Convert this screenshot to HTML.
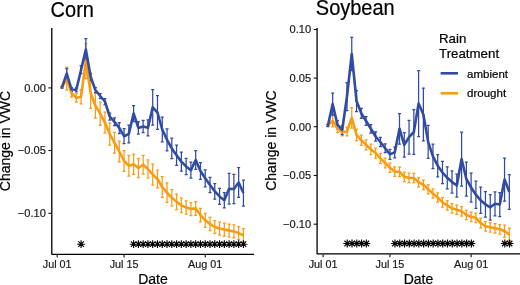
<!DOCTYPE html>
<html><head><meta charset="utf-8"><title>Change in VWC</title>
<style>
html,body{margin:0;padding:0;background:#fff;}
svg{display:block;}
text{font-family:"Liberation Sans",sans-serif;fill:#000;stroke:#000;stroke-width:0.2px;}
.ti{font-size:20px;}
.at{font-size:14px;}
.lt{font-size:13.3px;}
.tk{font-size:10.8px;fill:#1a1a1a;stroke:#1a1a1a;stroke-width:0.2px;}
.ty{font-size:11.1px;}
.lg{font-size:11.5px;}
.st{font-size:13px;}
</style></head><body>
<svg width="520" height="285" viewBox="0 0 520 285">
<rect width="520" height="285" fill="#fff"/>
<path d="M51.8,28V254.3H254" stroke="#000" stroke-width="1.3" fill="none" stroke-linejoin="round"/><path d="M57.20,254.70000000000002V257.60" stroke="#111" stroke-width="1.1"/><path d="M124.05,254.70000000000002V257.60" stroke="#111" stroke-width="1.1"/><path d="M205.23,254.70000000000002V257.60" stroke="#111" stroke-width="1.1"/><path d="M48.4,87.9H51.8" stroke="#111" stroke-width="1.1"/><path d="M48.4,150.5H51.8" stroke="#111" stroke-width="1.1"/><path d="M48.4,213.3H51.8" stroke="#111" stroke-width="1.1"/><text x="57.20" y="268.3" text-anchor="middle" class="tk">Jul 01</text><text x="124.05" y="268.3" text-anchor="middle" class="tk">Jul 15</text><text x="205.23" y="268.3" text-anchor="middle" class="tk">Aug 01</text><text x="45.9" y="91.80000000000001" text-anchor="end" class="tk ty">0.00</text><text x="45.9" y="154.4" text-anchor="end" class="tk ty">−0.05</text><text x="45.9" y="217.20000000000002" text-anchor="end" class="tk ty">−0.10</text>
<path d="M317.1,28V253.9H520" stroke="#000" stroke-width="1.3" fill="none" stroke-linejoin="round"/><path d="M323.10,254.3V257.20" stroke="#111" stroke-width="1.1"/><path d="M389.95,254.3V257.20" stroke="#111" stroke-width="1.1"/><path d="M471.12,254.3V257.20" stroke="#111" stroke-width="1.1"/><path d="M313.70000000000005,29.5H317.1" stroke="#111" stroke-width="1.1"/><path d="M313.70000000000005,78.1H317.1" stroke="#111" stroke-width="1.1"/><path d="M313.70000000000005,126.7H317.1" stroke="#111" stroke-width="1.1"/><path d="M313.70000000000005,175.5H317.1" stroke="#111" stroke-width="1.1"/><path d="M313.70000000000005,224.2H317.1" stroke="#111" stroke-width="1.1"/><text x="323.10" y="268.3" text-anchor="middle" class="tk">Jul 01</text><text x="389.95" y="268.3" text-anchor="middle" class="tk">Jul 15</text><text x="471.12" y="268.3" text-anchor="middle" class="tk">Aug 01</text><text x="311.20000000000005" y="33.4" text-anchor="end" class="tk ty">0.10</text><text x="311.20000000000005" y="82.0" text-anchor="end" class="tk ty">0.05</text><text x="311.20000000000005" y="130.6" text-anchor="end" class="tk ty">0.00</text><text x="311.20000000000005" y="179.4" text-anchor="end" class="tk ty">−0.05</text><text x="311.20000000000005" y="228.1" text-anchor="end" class="tk ty">−0.10</text>
<path d="M61.98,86.50V88.10M60.48,86.50h3.0M60.48,88.10h3.0M66.75,67.00V90.20M65.25,67.00h3.0M65.25,90.20h3.0M71.53,89.60V97.00M70.03,89.60h3.0M70.03,97.00h3.0M76.30,93.60V102.20M74.80,93.60h3.0M74.80,102.20h3.0M81.08,89.50V103.90M79.58,89.50h3.0M79.58,103.90h3.0M85.85,43.50V78.50M84.35,43.50h3.0M84.35,78.50h3.0M90.62,77.70V108.30M89.12,77.70h3.0M89.12,108.30h3.0M95.40,93.40V118.00M93.90,93.40h3.0M93.90,118.00h3.0M100.18,102.00V125.40M98.68,102.00h3.0M98.68,125.40h3.0M104.95,112.00V133.20M103.45,112.00h3.0M103.45,133.20h3.0M109.73,122.80V145.20M108.23,122.80h3.0M108.23,145.20h3.0M114.50,132.40V153.00M113.00,132.40h3.0M113.00,153.00h3.0M119.28,141.10V161.90M117.78,141.10h3.0M117.78,161.90h3.0M124.05,150.60V171.40M122.55,150.60h3.0M122.55,171.40h3.0M128.82,155.30V176.10M127.32,155.30h3.0M127.32,176.10h3.0M133.60,154.00V174.40M132.10,154.00h3.0M132.10,174.40h3.0M138.38,158.40V177.60M136.88,158.40h3.0M136.88,177.60h3.0M143.15,155.40V174.00M141.65,155.40h3.0M141.65,174.00h3.0M147.93,159.80V178.20M146.43,159.80h3.0M146.43,178.20h3.0M152.70,164.00V185.00M151.20,164.00h3.0M151.20,185.00h3.0M157.48,170.10V187.90M155.98,170.10h3.0M155.98,187.90h3.0M162.25,176.70V197.30M160.75,176.70h3.0M160.75,197.30h3.0M167.03,182.90V202.30M165.53,182.90h3.0M165.53,202.30h3.0M171.80,189.70V205.90M170.30,189.70h3.0M170.30,205.90h3.0M176.58,194.10V209.50M175.08,194.10h3.0M175.08,209.50h3.0M181.35,198.20V212.60M179.85,198.20h3.0M179.85,212.60h3.0M186.12,200.80V214.20M184.62,200.80h3.0M184.62,214.20h3.0M190.90,202.50V215.50M189.40,202.50h3.0M189.40,215.50h3.0M195.68,201.50V215.30M194.18,201.50h3.0M194.18,215.30h3.0M200.45,208.30V221.90M198.95,208.30h3.0M198.95,221.90h3.0M205.23,213.30V227.30M203.73,213.30h3.0M203.73,227.30h3.0M210.00,217.30V230.70M208.50,217.30h3.0M208.50,230.70h3.0M214.78,220.60V233.40M213.28,220.60h3.0M213.28,233.40h3.0M219.55,222.00V235.20M218.05,222.00h3.0M218.05,235.20h3.0M224.32,223.10V236.10M222.82,223.10h3.0M222.82,236.10h3.0M229.10,224.00V236.80M227.60,224.00h3.0M227.60,236.80h3.0M233.88,224.90V237.90M232.38,224.90h3.0M232.38,237.90h3.0M238.65,226.60V239.60M237.15,226.60h3.0M237.15,239.60h3.0M243.43,228.70V241.70M241.93,228.70h3.0M241.93,241.70h3.0" stroke="#F89C14" stroke-width="1.25" fill="none"/>
<path d="M61.98,86.50V88.10M60.48,86.50h3.0M60.48,88.10h3.0M66.75,68.50V78.50M65.25,68.50h3.0M65.25,78.50h3.0M71.53,87.50V91.50M70.03,87.50h3.0M70.03,91.50h3.0M76.30,87.80V91.80M74.80,87.80h3.0M74.80,91.80h3.0M81.08,65.70V73.70M79.58,65.70h3.0M79.58,73.70h3.0M85.85,38.50V60.50M84.35,38.50h3.0M84.35,60.50h3.0M90.62,73.30V80.30M89.12,73.30h3.0M89.12,80.30h3.0M95.40,87.50V92.50M93.90,87.50h3.0M93.90,92.50h3.0M100.18,93.50V98.50M98.68,93.50h3.0M98.68,98.50h3.0M104.95,98.50V104.50M103.45,98.50h3.0M103.45,104.50h3.0M109.73,113.00V120.00M108.23,113.00h3.0M108.23,120.00h3.0M114.50,117.90V125.70M113.00,117.90h3.0M113.00,125.70h3.0M119.28,122.50V133.50M117.78,122.50h3.0M117.78,133.50h3.0M124.05,128.70V143.70M122.55,128.70h3.0M122.55,143.70h3.0M128.82,125.20V142.80M127.32,125.20h3.0M127.32,142.80h3.0M133.60,105.50V121.50M132.10,105.50h3.0M132.10,121.50h3.0M138.38,121.70V134.10M136.88,121.70h3.0M136.88,134.10h3.0M143.15,120.30V132.70M141.65,120.30h3.0M141.65,132.70h3.0M147.93,119.80V135.80M146.43,119.80h3.0M146.43,135.80h3.0M152.70,89.60V125.00M151.20,89.60h3.0M151.20,125.00h3.0M157.48,95.70V129.30M155.98,95.70h3.0M155.98,129.30h3.0M162.25,117.20V141.80M160.75,117.20h3.0M160.75,141.80h3.0M167.03,128.80V150.80M165.53,128.80h3.0M165.53,150.80h3.0M171.80,138.20V158.60M170.30,138.20h3.0M170.30,158.60h3.0M176.58,145.10V165.30M175.08,145.10h3.0M175.08,165.30h3.0M181.35,152.00V171.20M179.85,152.00h3.0M179.85,171.20h3.0M186.12,158.30V174.50M184.62,158.30h3.0M184.62,174.50h3.0M190.90,162.20V178.20M189.40,162.20h3.0M189.40,178.20h3.0M195.68,150.70V169.30M194.18,150.70h3.0M194.18,169.30h3.0M200.45,162.70V179.30M198.95,162.70h3.0M198.95,179.30h3.0M205.23,169.80V186.80M203.73,169.80h3.0M203.73,186.80h3.0M210.00,177.30V192.70M208.50,177.30h3.0M208.50,192.70h3.0M214.78,183.60V199.00M213.28,183.60h3.0M213.28,199.00h3.0M219.55,188.40V204.40M218.05,188.40h3.0M218.05,204.40h3.0M224.32,192.50V207.90M222.82,192.50h3.0M222.82,207.90h3.0M229.10,173.30V204.10M227.60,173.30h3.0M227.60,204.10h3.0M233.88,174.40V203.60M232.38,174.40h3.0M232.38,203.60h3.0M238.65,167.70V197.30M237.15,167.70h3.0M237.15,197.30h3.0M243.43,180.00V206.00M241.93,180.00h3.0M241.93,206.00h3.0" stroke="#314BA2" stroke-width="1.25" fill="none"/>
<polyline points="61.98,87.30 66.75,78.60 71.53,93.30 76.30,97.90 81.08,96.70 85.85,61.00 90.62,93.00 95.40,105.70 100.18,113.70 104.95,122.60 109.73,134.00 114.50,142.70 119.28,151.50 124.05,161.00 128.82,165.70 133.60,164.20 138.38,168.00 143.15,164.70 147.93,169.00 152.70,174.50 157.48,179.00 162.25,187.00 167.03,192.60 171.80,197.80 176.58,201.80 181.35,205.40 186.12,207.50 190.90,209.00 195.68,208.40 200.45,215.10 205.23,220.30 210.00,224.00 214.78,227.00 219.55,228.60 224.32,229.60 229.10,230.40 233.88,231.40 238.65,233.10 243.43,235.20" stroke="#F89C14" stroke-width="2.6" fill="none" stroke-linejoin="round" stroke-linecap="butt"/>
<polyline points="61.98,87.30 66.75,73.50 71.53,89.50 76.30,89.80 81.08,69.70 85.85,49.50 90.62,76.80 95.40,90.00 100.18,96.00 104.95,101.50 109.73,116.50 114.50,121.80 119.28,128.00 124.05,136.20 128.82,134.00 133.60,113.50 138.38,127.90 143.15,126.50 147.93,127.80 152.70,107.30 157.48,112.50 162.25,129.50 167.03,139.80 171.80,148.40 176.58,155.20 181.35,161.60 186.12,166.40 190.90,170.20 195.68,160.00 200.45,171.00 205.23,178.30 210.00,185.00 214.78,191.30 219.55,196.40 224.32,200.20 229.10,188.70 233.88,189.00 238.65,182.50 243.43,193.00" stroke="#314BA2" stroke-width="2.6" fill="none" stroke-linejoin="round" stroke-linecap="butt"/>
<path d="M327.88,124.40V126.40M326.38,124.40h3.0M326.38,126.40h3.0M332.65,114.80V126.80M331.15,114.80h3.0M331.15,126.80h3.0M337.43,124.60V132.60M335.93,124.60h3.0M335.93,132.60h3.0M342.20,128.60V135.80M340.70,128.60h3.0M340.70,135.80h3.0M346.98,127.20V135.80M345.48,127.20h3.0M345.48,135.80h3.0M351.75,107.60V128.00M350.25,107.60h3.0M350.25,128.00h3.0M356.53,129.30V140.70M355.03,129.30h3.0M355.03,140.70h3.0M361.30,135.00V145.40M359.80,135.00h3.0M359.80,145.40h3.0M366.08,139.80V149.80M364.58,139.80h3.0M364.58,149.80h3.0M370.85,144.20V154.60M369.35,144.20h3.0M369.35,154.60h3.0M375.62,148.00V158.00M374.12,148.00h3.0M374.12,158.00h3.0M380.40,153.40V163.40M378.90,153.40h3.0M378.90,163.40h3.0M385.18,158.20V167.80M383.68,158.20h3.0M383.68,167.80h3.0M389.95,163.00V172.40M388.45,163.00h3.0M388.45,172.40h3.0M394.73,166.90V176.30M393.23,166.90h3.0M393.23,176.30h3.0M399.50,167.10V176.50M398.00,167.10h3.0M398.00,176.50h3.0M404.28,172.10V181.50M402.78,172.10h3.0M402.78,181.50h3.0M409.05,173.10V182.50M407.55,173.10h3.0M407.55,182.50h3.0M413.83,173.30V182.70M412.33,173.30h3.0M412.33,182.70h3.0M418.60,177.50V186.90M417.10,177.50h3.0M417.10,186.90h3.0M423.38,180.10V189.50M421.88,180.10h3.0M421.88,189.50h3.0M428.15,184.50V193.90M426.65,184.50h3.0M426.65,193.90h3.0M432.93,188.80V198.20M431.43,188.80h3.0M431.43,198.20h3.0M437.70,192.80V202.20M436.20,192.80h3.0M436.20,202.20h3.0M442.48,197.60V207.00M440.98,197.60h3.0M440.98,207.00h3.0M447.25,200.60V210.00M445.75,200.60h3.0M445.75,210.00h3.0M452.03,203.60V213.00M450.53,203.60h3.0M450.53,213.00h3.0M456.80,205.00V214.40M455.30,205.00h3.0M455.30,214.40h3.0M461.58,206.60V216.00M460.08,206.60h3.0M460.08,216.00h3.0M466.35,210.30V219.70M464.85,210.30h3.0M464.85,219.70h3.0M471.12,212.10V221.50M469.62,212.10h3.0M469.62,221.50h3.0M475.90,213.10V222.50M474.40,213.10h3.0M474.40,222.50h3.0M480.68,218.20V227.80M479.18,218.20h3.0M479.18,227.80h3.0M485.45,221.50V231.10M483.95,221.50h3.0M483.95,231.10h3.0M490.23,222.50V232.10M488.73,222.50h3.0M488.73,232.10h3.0M495.00,223.50V233.10M493.50,223.50h3.0M493.50,233.10h3.0M499.78,224.50V234.10M498.28,224.50h3.0M498.28,234.10h3.0M504.55,225.00V237.40M503.05,225.00h3.0M503.05,237.40h3.0M509.33,228.10V240.70M507.83,228.10h3.0M507.83,240.70h3.0" stroke="#F89C14" stroke-width="1.25" fill="none"/>
<path d="M327.88,124.70V126.70M326.38,124.70h3.0M326.38,126.70h3.0M332.65,93.00V115.00M331.15,93.00h3.0M331.15,115.00h3.0M337.43,120.60V128.60M335.93,120.60h3.0M335.93,128.60h3.0M342.20,125.50V134.50M340.70,125.50h3.0M340.70,134.50h3.0M346.98,82.50V110.50M345.48,82.50h3.0M345.48,110.50h3.0M351.75,37.40V70.60M350.25,37.40h3.0M350.25,70.60h3.0M356.53,90.50V111.50M355.03,90.50h3.0M355.03,111.50h3.0M361.30,108.30V118.30M359.80,108.30h3.0M359.80,118.30h3.0M366.08,116.60V125.40M364.58,116.60h3.0M364.58,125.40h3.0M370.85,124.60V133.00M369.35,124.60h3.0M369.35,133.00h3.0M375.62,131.90V141.10M374.12,131.90h3.0M374.12,141.10h3.0M380.40,137.30V146.70M378.90,137.30h3.0M378.90,146.70h3.0M385.18,143.90V152.50M383.68,143.90h3.0M383.68,152.50h3.0M389.95,149.30V159.30M388.45,149.30h3.0M388.45,159.30h3.0M394.73,147.00V157.80M393.23,147.00h3.0M393.23,157.80h3.0M399.50,113.50V144.10M398.00,113.50h3.0M398.00,144.10h3.0M404.28,132.60V157.00M402.78,132.60h3.0M402.78,157.00h3.0M409.05,120.40V154.00M407.55,120.40h3.0M407.55,154.00h3.0M413.83,109.60V154.40M412.33,109.60h3.0M412.33,154.40h3.0M418.60,70.50V136.50M417.10,70.50h3.0M417.10,136.50h3.0M423.38,88.20V140.80M421.88,88.20h3.0M421.88,140.80h3.0M428.15,125.30V158.30M426.65,125.30h3.0M426.65,158.30h3.0M432.93,144.00V168.60M431.43,144.00h3.0M431.43,168.60h3.0M437.70,154.60V176.80M436.20,154.60h3.0M436.20,176.80h3.0M442.48,161.40V183.60M440.98,161.40h3.0M440.98,183.60h3.0M447.25,166.80V188.80M445.75,166.80h3.0M445.75,188.80h3.0M452.03,170.80V193.20M450.53,170.80h3.0M450.53,193.20h3.0M456.80,174.00V197.00M455.30,174.00h3.0M455.30,197.00h3.0M461.58,132.00V186.00M460.08,132.00h3.0M460.08,186.00h3.0M466.35,162.00V196.00M464.85,162.00h3.0M464.85,196.00h3.0M471.12,173.00V202.00M469.62,173.00h3.0M469.62,202.00h3.0M475.90,181.10V208.30M474.40,181.10h3.0M474.40,208.30h3.0M480.68,187.20V213.40M479.18,187.20h3.0M479.18,213.40h3.0M485.45,191.70V217.10M483.95,191.70h3.0M483.95,217.10h3.0M490.23,194.60V220.00M488.73,194.60h3.0M488.73,220.00h3.0M495.00,191.80V215.80M493.50,191.80h3.0M493.50,215.80h3.0M499.78,192.50V216.50M498.28,192.50h3.0M498.28,216.50h3.0M504.55,158.00V201.00M503.05,158.00h3.0M503.05,201.00h3.0M509.33,174.70V209.30M507.83,174.70h3.0M507.83,209.30h3.0" stroke="#314BA2" stroke-width="1.25" fill="none"/>
<polyline points="327.88,125.40 332.65,120.80 337.43,128.60 342.20,132.20 346.98,131.50 351.75,117.80 356.53,135.00 361.30,140.20 366.08,144.80 370.85,149.40 375.62,153.00 380.40,158.40 385.18,163.00 389.95,167.70 394.73,171.60 399.50,171.80 404.28,176.80 409.05,177.80 413.83,178.00 418.60,182.20 423.38,184.80 428.15,189.20 432.93,193.50 437.70,197.50 442.48,202.30 447.25,205.30 452.03,208.30 456.80,209.70 461.58,211.30 466.35,215.00 471.12,216.80 475.90,217.80 480.68,223.00 485.45,226.30 490.23,227.30 495.00,228.30 499.78,229.30 504.55,231.20 509.33,234.40" stroke="#F89C14" stroke-width="2.6" fill="none" stroke-linejoin="round" stroke-linecap="butt"/>
<polyline points="327.88,125.70 332.65,104.00 337.43,124.60 342.20,130.00 346.98,96.50 351.75,54.00 356.53,101.00 361.30,113.30 366.08,121.00 370.85,128.80 375.62,136.50 380.40,142.00 385.18,148.20 389.95,154.30 394.73,152.40 399.50,128.80 404.28,144.80 409.05,137.20 413.83,132.00 418.60,103.50 423.38,114.50 428.15,141.80 432.93,156.30 437.70,165.70 442.48,172.50 447.25,177.80 452.03,182.00 456.80,185.50 461.58,159.00 466.35,179.00 471.12,187.50 475.90,194.70 480.68,200.30 485.45,204.40 490.23,207.30 495.00,203.80 499.78,204.50 504.55,179.50 509.33,192.00" stroke="#314BA2" stroke-width="2.6" fill="none" stroke-linejoin="round" stroke-linecap="butt"/>
<path d="M77.17,244.2h7.8M81.08,240.29999999999998v7.8M78.32,241.44l5.52,5.52M78.32,246.96l5.52,-5.52M129.70,244.2h7.8M133.60,240.29999999999998v7.8M130.84,241.44l5.52,5.52M130.84,246.96l5.52,-5.52M134.47,244.2h7.8M138.38,240.29999999999998v7.8M135.62,241.44l5.52,5.52M135.62,246.96l5.52,-5.52M139.25,244.2h7.8M143.15,240.29999999999998v7.8M140.39,241.44l5.52,5.52M140.39,246.96l5.52,-5.52M144.03,244.2h7.8M147.93,240.29999999999998v7.8M145.17,241.44l5.52,5.52M145.17,246.96l5.52,-5.52M148.80,244.2h7.8M152.70,240.29999999999998v7.8M149.94,241.44l5.52,5.52M149.94,246.96l5.52,-5.52M153.58,244.2h7.8M157.48,240.29999999999998v7.8M154.72,241.44l5.52,5.52M154.72,246.96l5.52,-5.52M158.35,244.2h7.8M162.25,240.29999999999998v7.8M159.49,241.44l5.52,5.52M159.49,246.96l5.52,-5.52M163.12,244.2h7.8M167.03,240.29999999999998v7.8M164.27,241.44l5.52,5.52M164.27,246.96l5.52,-5.52M167.90,244.2h7.8M171.80,240.29999999999998v7.8M169.04,241.44l5.52,5.52M169.04,246.96l5.52,-5.52M172.68,244.2h7.8M176.58,240.29999999999998v7.8M173.82,241.44l5.52,5.52M173.82,246.96l5.52,-5.52M177.45,244.2h7.8M181.35,240.29999999999998v7.8M178.59,241.44l5.52,5.52M178.59,246.96l5.52,-5.52M182.22,244.2h7.8M186.12,240.29999999999998v7.8M183.37,241.44l5.52,5.52M183.37,246.96l5.52,-5.52M187.00,244.2h7.8M190.90,240.29999999999998v7.8M188.14,241.44l5.52,5.52M188.14,246.96l5.52,-5.52M191.78,244.2h7.8M195.68,240.29999999999998v7.8M192.92,241.44l5.52,5.52M192.92,246.96l5.52,-5.52M196.55,244.2h7.8M200.45,240.29999999999998v7.8M197.69,241.44l5.52,5.52M197.69,246.96l5.52,-5.52M201.33,244.2h7.8M205.23,240.29999999999998v7.8M202.47,241.44l5.52,5.52M202.47,246.96l5.52,-5.52M206.10,244.2h7.8M210.00,240.29999999999998v7.8M207.24,241.44l5.52,5.52M207.24,246.96l5.52,-5.52M210.88,244.2h7.8M214.78,240.29999999999998v7.8M212.02,241.44l5.52,5.52M212.02,246.96l5.52,-5.52M215.65,244.2h7.8M219.55,240.29999999999998v7.8M216.79,241.44l5.52,5.52M216.79,246.96l5.52,-5.52M220.42,244.2h7.8M224.32,240.29999999999998v7.8M221.57,241.44l5.52,5.52M221.57,246.96l5.52,-5.52M225.20,244.2h7.8M229.10,240.29999999999998v7.8M226.34,241.44l5.52,5.52M226.34,246.96l5.52,-5.52M229.97,244.2h7.8M233.88,240.29999999999998v7.8M231.12,241.44l5.52,5.52M231.12,246.96l5.52,-5.52M234.75,244.2h7.8M238.65,240.29999999999998v7.8M235.89,241.44l5.52,5.52M235.89,246.96l5.52,-5.52M239.53,244.2h7.8M243.43,240.29999999999998v7.8M240.67,241.44l5.52,5.52M240.67,246.96l5.52,-5.52" stroke="#000" stroke-width="1.15" fill="none"/><path d="M79.98,243.10h2.2v2.2h-2.2zM132.50,243.10h2.2v2.2h-2.2zM137.28,243.10h2.2v2.2h-2.2zM142.05,243.10h2.2v2.2h-2.2zM146.83,243.10h2.2v2.2h-2.2zM151.60,243.10h2.2v2.2h-2.2zM156.38,243.10h2.2v2.2h-2.2zM161.15,243.10h2.2v2.2h-2.2zM165.93,243.10h2.2v2.2h-2.2zM170.70,243.10h2.2v2.2h-2.2zM175.48,243.10h2.2v2.2h-2.2zM180.25,243.10h2.2v2.2h-2.2zM185.03,243.10h2.2v2.2h-2.2zM189.80,243.10h2.2v2.2h-2.2zM194.58,243.10h2.2v2.2h-2.2zM199.35,243.10h2.2v2.2h-2.2zM204.13,243.10h2.2v2.2h-2.2zM208.90,243.10h2.2v2.2h-2.2zM213.68,243.10h2.2v2.2h-2.2zM218.45,243.10h2.2v2.2h-2.2zM223.22,243.10h2.2v2.2h-2.2zM228.00,243.10h2.2v2.2h-2.2zM232.78,243.10h2.2v2.2h-2.2zM237.55,243.10h2.2v2.2h-2.2zM242.33,243.10h2.2v2.2h-2.2z" fill="#000"/>
<path d="M343.33,243.5h7.8M347.23,239.6v7.8M344.47,240.74l5.52,5.52M344.47,246.26l5.52,-5.52M348.10,243.5h7.8M352.00,239.6v7.8M349.24,240.74l5.52,5.52M349.24,246.26l5.52,-5.52M352.88,243.5h7.8M356.78,239.6v7.8M354.02,240.74l5.52,5.52M354.02,246.26l5.52,-5.52M357.65,243.5h7.8M361.55,239.6v7.8M358.79,240.74l5.52,5.52M358.79,246.26l5.52,-5.52M362.43,243.5h7.8M366.33,239.6v7.8M363.57,240.74l5.52,5.52M363.57,246.26l5.52,-5.52M391.08,243.5h7.8M394.98,239.6v7.8M392.22,240.74l5.52,5.52M392.22,246.26l5.52,-5.52M395.85,243.5h7.8M399.75,239.6v7.8M396.99,240.74l5.52,5.52M396.99,246.26l5.52,-5.52M400.63,243.5h7.8M404.53,239.6v7.8M401.77,240.74l5.52,5.52M401.77,246.26l5.52,-5.52M405.40,243.5h7.8M409.30,239.6v7.8M406.54,240.74l5.52,5.52M406.54,246.26l5.52,-5.52M410.18,243.5h7.8M414.08,239.6v7.8M411.32,240.74l5.52,5.52M411.32,246.26l5.52,-5.52M414.95,243.5h7.8M418.85,239.6v7.8M416.09,240.74l5.52,5.52M416.09,246.26l5.52,-5.52M419.73,243.5h7.8M423.62,239.6v7.8M420.87,240.74l5.52,5.52M420.87,246.26l5.52,-5.52M424.50,243.5h7.8M428.40,239.6v7.8M425.64,240.74l5.52,5.52M425.64,246.26l5.52,-5.52M429.28,243.5h7.8M433.18,239.6v7.8M430.42,240.74l5.52,5.52M430.42,246.26l5.52,-5.52M434.05,243.5h7.8M437.95,239.6v7.8M435.19,240.74l5.52,5.52M435.19,246.26l5.52,-5.52M438.83,243.5h7.8M442.73,239.6v7.8M439.97,240.74l5.52,5.52M439.97,246.26l5.52,-5.52M443.60,243.5h7.8M447.50,239.6v7.8M444.74,240.74l5.52,5.52M444.74,246.26l5.52,-5.52M448.38,243.5h7.8M452.28,239.6v7.8M449.52,240.74l5.52,5.52M449.52,246.26l5.52,-5.52M453.15,243.5h7.8M457.05,239.6v7.8M454.29,240.74l5.52,5.52M454.29,246.26l5.52,-5.52M457.93,243.5h7.8M461.83,239.6v7.8M459.07,240.74l5.52,5.52M459.07,246.26l5.52,-5.52M462.70,243.5h7.8M466.60,239.6v7.8M463.84,240.74l5.52,5.52M463.84,246.26l5.52,-5.52M467.48,243.5h7.8M471.38,239.6v7.8M468.62,240.74l5.52,5.52M468.62,246.26l5.52,-5.52M500.90,243.5h7.8M504.80,239.6v7.8M502.04,240.74l5.52,5.52M502.04,246.26l5.52,-5.52M505.68,243.5h7.8M509.58,239.6v7.8M506.82,240.74l5.52,5.52M506.82,246.26l5.52,-5.52" stroke="#000" stroke-width="1.15" fill="none"/><path d="M346.12,242.40h2.2v2.2h-2.2zM350.90,242.40h2.2v2.2h-2.2zM355.68,242.40h2.2v2.2h-2.2zM360.45,242.40h2.2v2.2h-2.2zM365.23,242.40h2.2v2.2h-2.2zM393.88,242.40h2.2v2.2h-2.2zM398.65,242.40h2.2v2.2h-2.2zM403.43,242.40h2.2v2.2h-2.2zM408.20,242.40h2.2v2.2h-2.2zM412.98,242.40h2.2v2.2h-2.2zM417.75,242.40h2.2v2.2h-2.2zM422.52,242.40h2.2v2.2h-2.2zM427.30,242.40h2.2v2.2h-2.2zM432.07,242.40h2.2v2.2h-2.2zM436.85,242.40h2.2v2.2h-2.2zM441.62,242.40h2.2v2.2h-2.2zM446.40,242.40h2.2v2.2h-2.2zM451.18,242.40h2.2v2.2h-2.2zM455.95,242.40h2.2v2.2h-2.2zM460.73,242.40h2.2v2.2h-2.2zM465.50,242.40h2.2v2.2h-2.2zM470.27,242.40h2.2v2.2h-2.2zM503.70,242.40h2.2v2.2h-2.2zM508.48,242.40h2.2v2.2h-2.2z" fill="#000"/>
<text transform="translate(50.6,17) scale(1,1.07)" class="ti">Corn</text>
<text transform="translate(315.8,14.7) scale(1,1.07)" class="ti">Soybean</text>
<text x="153" y="284.2" text-anchor="middle" class="at">Date</text>
<text x="418.5" y="284.2" text-anchor="middle" class="at">Date</text>
<text transform="translate(10.3,141) rotate(-90)" text-anchor="middle" class="at">Change in VWC</text>
<text transform="translate(276.2,140.6) rotate(-90)" text-anchor="middle" class="at">Change in VWC</text>
<text x="439" y="42.6" class="lt">Rain</text>
<text x="439" y="57.7" class="lt">Treatment</text>
<path d="M440.6,73.3H458" stroke="#314BA2" stroke-width="2.6"/>
<path d="M440.6,93.3H458" stroke="#F89C14" stroke-width="2.6"/>
<text x="467.1" y="77.6" class="lg">ambient</text>
<text x="467.1" y="97.2" class="lg">drought</text>
</svg>
</body></html>
